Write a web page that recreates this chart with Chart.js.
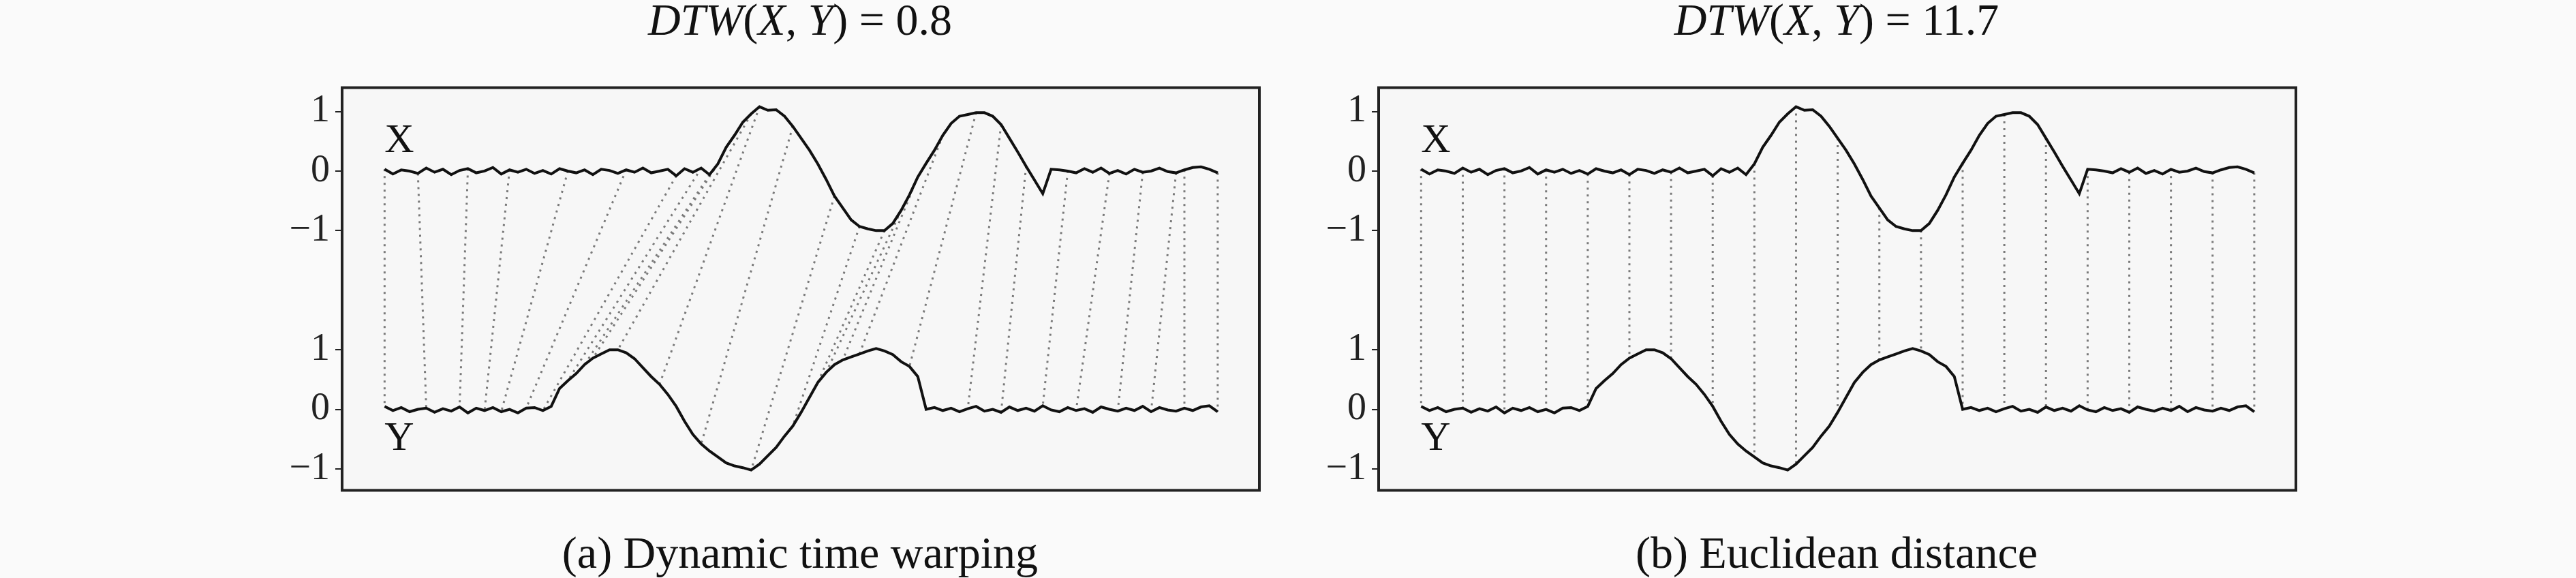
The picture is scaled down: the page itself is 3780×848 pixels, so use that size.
<!DOCTYPE html>
<html><head><meta charset="utf-8">
<script src="https://cdn.jsdelivr.net/npm/chart.js@4/dist/chart.umd.min.js"></script>
<style>
body{margin:0;width:3780px;height:848px;background:#fafafa;position:relative;overflow:hidden;font-family:"Liberation Serif",serif;color:#111}
canvas{position:absolute;top:87px;display:block}
.t{position:absolute;width:1344px;text-align:center;font-size:66px;line-height:1}
</style></head><body>
<div class="t" style="left:502px;top:-4px"><i>DTW</i>(<i>X</i>, <i>Y</i>) = 0.8</div>
<div class="t" style="left:2023px;top:-4px"><i>DTW</i>(<i>X</i>, <i>Y</i>) = 11.7</div>
<div class="t" style="left:502px;top:778px">(a) Dynamic time warping</div>
<div class="t" style="left:2023px;top:778px">(b) Euclidean distance</div>
<canvas id="c1" width="1470" height="674" style="left:382px;width:1470px;height:674px"></canvas>
<canvas id="c2" width="1470" height="674" style="left:1903px;width:1470px;height:674px"></canvas>
<script>
const seriesX = [0.03,-0.05,0.02,0.0,-0.04,0.05,-0.02,0.03,-0.06,0.01,0.04,-0.03,0.0,0.06,-0.05,0.02,-0.02,0.03,-0.04,0.01,-0.05,0.04,0.0,-0.03,0.02,-0.06,0.03,0.01,-0.04,0.02,-0.02,0.05,-0.03,0.0,0.03,-0.08,0.04,-0.02,0.05,-0.06,
0.12,0.4,0.6,0.82,0.96,1.08,1.02,1.03,0.92,0.75,0.55,0.35,0.12,-0.14,-0.42,-0.62,-0.82,-0.93,-0.97,-1.0,-1.0,-0.88,-0.66,-0.4,-0.1,0.13,0.35,0.6,0.8,0.92,0.95,0.98,0.98,0.92,0.78,0.55,0.32,0.08,-0.15,-0.38,0.03,
0.02,0.0,-0.03,0.04,-0.02,0.05,-0.04,0.01,-0.05,0.03,-0.02,0.0,0.05,-0.01,-0.03,0.02,0.06,0.07,0.03,-0.03];
const seriesY = [0.05,-0.02,0.03,-0.04,0.0,0.02,-0.05,0.01,-0.03,0.04,-0.06,0.02,-0.02,0.03,-0.04,0.0,-0.06,0.02,0.03,-0.02,
0.05,0.35,0.48,0.6,0.75,0.86,0.93,1.0,1.0,0.95,0.85,0.7,0.55,0.42,0.25,0.05,-0.2,-0.42,-0.58,-0.7,-0.8,-0.9,-0.95,-0.98,-1.02,-0.92,-0.78,-0.64,-0.45,-0.28,-0.05,0.2,0.45,0.62,0.75,0.83,0.88,0.93,0.98,1.02,0.98,0.92,0.8,0.72,0.55,0.0,
0.03,-0.02,0.02,-0.04,0.01,0.05,-0.03,0.0,-0.05,0.04,-0.02,0.02,-0.03,0.06,-0.01,-0.04,0.03,-0.02,0.01,-0.05,0.04,0.0,-0.03,0.02,-0.02,0.05,-0.04,0.03,-0.01,-0.03,0.02,-0.02,0.04,0.06,-0.04];
const dtwPairs = [[0,0],[4,5],[10,9],[15,12],[22,14],[29,17],[35,19],[38,22],[39,24],[40,25],[44,28],[45,33],[49,38],[54,44],[57,49],[60,52],[62,53],[64,55],[67,57],[71,63],[74,70],[77,74],[82,79],[87,83],[91,88],[95,92],[96,96],[100,100]];
const euclidPairs = [0,5,10,15,20,25,30,35,40,45,50,55,60,65,70,75,80,85,90,95,100].map(i=>[i,i]);
const tickValues = [-1,0,1,3,4,5];
const xOffset = 4;

function make(id, pairs){
  const ds = pairs.map(p=>({data:[{x:p[0],y:seriesX[p[0]]+xOffset},{x:p[1],y:seriesY[p[1]]}],
    borderColor:'#7a7a7a',borderWidth:3,borderDash:[3,7],pointRadius:0,order:2}));
  ds.push({data:seriesX.map((v,i)=>({x:i,y:v+xOffset})),borderColor:'#111',borderWidth:4,pointRadius:0,order:1});
  ds.push({data:seriesY.map((v,i)=>({x:i,y:v})),borderColor:'#111',borderWidth:4,pointRadius:0,order:1});
  new Chart(document.getElementById(id),{type:'line',data:{datasets:ds},
    options:{responsive:false,animation:false,devicePixelRatio:1,
      layout:{padding:{top:4,bottom:4,right:4,left:0}},
      plugins:{legend:{display:false},tooltip:{enabled:false}},
      scales:{
        x:{type:'linear',min:-5.1,max:105,display:false},
        y:{min:-1.36,max:5.40,afterFit:s=>{s.width=120;},
           afterBuildTicks:s=>{s.ticks=tickValues.map(v=>({value:v}));},
           ticks:{color:'#222',font:{family:'Liberation Serif',size:56},padding:8,
             callback:v=>{const n=v>2?v-xOffset:v;return n<0?'\u2212'+Math.abs(n):String(n);}},
           grid:{drawOnChartArea:false,tickLength:10,color:'#222',lineWidth:2},border:{display:false}}
      }},
    plugins:[{id:'box',afterDraw(c){const a=c.chartArea,g=c.ctx,xs=c.scales.x,ys=c.scales.y;
      g.save();g.strokeStyle='#222';g.lineWidth=4;g.strokeRect(a.left,a.top,a.right-a.left,a.bottom-a.top);
      g.fillStyle='#111';g.font='60px "Liberation Serif"';g.textAlign='left';g.textBaseline='middle';
      g.fillText('X',xs.getPixelForValue(0),ys.getPixelForValue(4.5));
      g.fillText('Y',xs.getPixelForValue(0),ys.getPixelForValue(-0.5));g.restore();}},
      {id:'bg',beforeDraw(c){const a=c.chartArea,g=c.ctx;g.save();g.fillStyle='#f7f7f7';g.fillRect(a.left,a.top,a.right-a.left,a.bottom-a.top);g.restore();}}]
  });
}
make('c1',dtwPairs);
make('c2',euclidPairs);
</script></body></html>
